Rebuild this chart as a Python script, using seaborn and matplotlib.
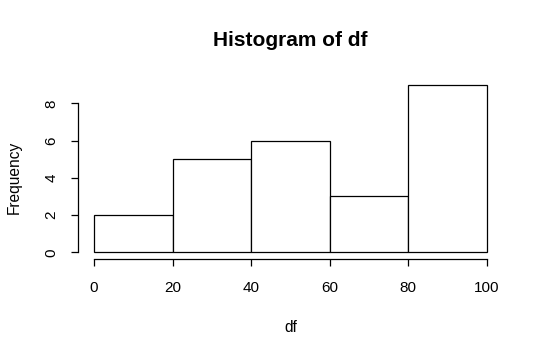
import matplotlib
matplotlib.use("Agg")
import matplotlib.pyplot as plt
import seaborn as sns
import numpy as np

# data
bin_edges = [0, 20, 40, 60, 80, 100]
bin_mids = [10, 30, 50, 70, 90]
counts = [2, 5, 6, 3, 9]
x_ticks = [0, 20, 40, 60, 80, 100]
y_ticks = [0, 2, 4, 6, 8]

sns.set_style("white")
plt.rcParams['font.family'] = ['Liberation Sans', 'DejaVu Sans']
plt.rcParams['text.color'] = 'black'

fig = plt.figure(figsize=(5.43, 3.57), dpi=100)
W, H = 543, 357
left, right, bottom, top = 78.3, 502.4, 259.0, 78.0
ax = fig.add_axes([left / W, (H - bottom) / H, (right - left) / W, (bottom - top) / H])

sns.histplot(x=bin_mids, weights=counts, bins=bin_edges, stat="count",
             color="white", edgecolor="black", linewidth=0.9, alpha=1, ax=ax)

ax.set_xlim(-4, 104)
ax.set_ylim(-0.36, 9.36)
ax.set_xticks(x_ticks)
ax.set_yticks(y_ticks)
ax.set_xticklabels([str(v) for v in x_ticks])
ax.set_yticklabels([str(v) for v in y_ticks], rotation=90, va="center")

for s in ["top", "right"]:
    ax.spines[s].set_visible(False)
for s in ["left", "bottom"]:
    ax.spines[s].set_color("black")
    ax.spines[s].set_linewidth(0.9)
ax.spines["left"].set_bounds(0, 8)
ax.spines["bottom"].set_bounds(0, 100)

ax.tick_params(axis="both", which="major", bottom=True, left=True,
               direction="out", length=5.2, width=0.9, color="black",
               labelsize=11.0, labelcolor="black")
ax.tick_params(axis="x", pad=11.0)
ax.tick_params(axis="y", pad=9.0)
ax.grid(False)

ax.set_xlabel("")
ax.set_ylabel("")
fig.text((94.3 + 486.7) / 2 / W, 1 - 327 / H, "df", ha="center", va="center",
         fontsize=11.2, color="black")
fig.text(14 / W, 1 - ((252.3 + 103.3) / 2) / H, "Frequency", ha="center", va="center",
         rotation=90, fontsize=11.2, color="black")
fig.text((78.3 + 502.4) / 2 / W, 1 - 40 / H, "Histogram of df", ha="center", va="center",
         fontsize=15.0, fontweight="bold", color="black")

fig.savefig("out.png", dpi=100, facecolor="white")
